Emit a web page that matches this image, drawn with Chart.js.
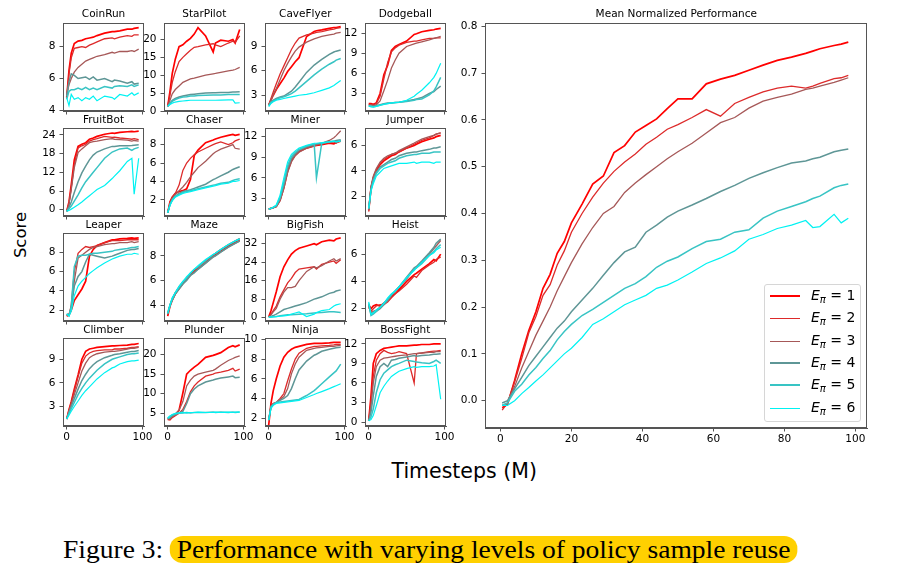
<!DOCTYPE html>
<html>
<head>
<meta charset="utf-8">
<script src="https://cdn.jsdelivr.net/npm/chart.js@4.4.0/dist/chart.umd.min.js"></script>
<style>
  body { margin: 0; width: 924px; height: 587px; background: #fff; position: relative; overflow: hidden;
         font-family: "DejaVu Sans", sans-serif; color: #000; }
  canvas { position: absolute; }
  .ttl { position: absolute; font-size: 10.5px; line-height: 1; white-space: nowrap; transform: translate(-50%, -50%); }
  #score { position: absolute; left: 21px; top: 234.5px; font-size: 16.5px; line-height: 1;
           transform: translate(-50%, -50%) rotate(-90deg); }
  #xlabel { position: absolute; left: 464.2px; top: 461px; font-size: 20.5px; line-height: 1;
            white-space: nowrap; transform: translateX(-50%); }
  #legend { position: absolute; left: 764px; top: 284px; width: 97px; height: 138px; box-sizing: border-box;
            border: 1px solid #d6d6d6; border-radius: 3px; background: rgba(255,255,255,0.8); }
  #legend .ln { position: absolute; left: 5px; width: 30px; }
  #legend .tx { position: absolute; left: 46px; font-size: 14px; line-height: 1; white-space: nowrap; transform: translateY(-50%); }
  #legend sub { font-size: 10px; vertical-align: -3px; font-style: italic; }
  #caption { position: absolute; left: 62.7px; top: 537.3px; font-family: "Liberation Serif", serif; font-size: 25px;
             line-height: 25px; white-space: nowrap; transform-origin: 0 0; }
  #caption .hl { background: #ffd000; border-radius: 12px; padding: 0 6px; }
</style>
</head>
<body>
<div id="score">Score</div>
<div id="xlabel">Timesteps (M)</div>
<div id="caption">Figure 3: <span class="hl">Performance with varying levels of policy sample reuse</span></div>
<script>
// x positions (millions of timesteps) shared by all small panels
const SMALL_X = [0, 3, 6, 10, 15, 20, 25, 30, 35, 40, 50, 60, 63, 70, 80, 86, 89, 95];
const BIG_X = [0.5, 2, 4, 6, 8, 10, 12, 14, 16, 18, 20, 23, 26, 29, 32, 35, 38, 41, 44, 47, 50, 54, 58, 62, 66, 70, 74, 78, 82, 86, 88, 90, 94, 96, 98];
const SERIES = ['1', '2', '3', '4', '5', '6'];

const GAMES = ['CoinRun', 'StarPilot', 'CaveFlyer', 'Dodgeball',
               'FruitBot', 'Chaser', 'Miner', 'Jumper',
               'Leaper', 'Maze', 'BigFish', 'Heist',
               'Climber', 'Plunder', 'Ninja', 'BossFight'];

const YTICKS = [[4, 6, 8], [0, 5, 10, 15, 20], [3, 6, 9], [3, 6, 9, 12],
                [0, 6, 12, 18, 24], [2, 4, 6, 8], [3, 6, 9, 12], [2, 4, 6],
                [2, 4, 6, 8], [4, 6, 8], [0, 8, 16, 24, 32], [2, 4, 6],
                [3, 6, 9], [5, 10, 15, 20], [2, 4, 6, 8, 10], [0, 3, 6, 9, 12]];

const YRANGE = [[3.96, 9.49], [0, 24.6], [1.07, 11.85], [0.4, 13.5],
                [-2.0, 26.2], [0.25, 9.8], [0.5, 13.2], [0.46, 7.38],
                [0.88, 10.0], [2.7, 9.85], [-1.45, 36.6], [1.1, 7.55],
                [0.52, 11.7], [1.75, 24.25], [1.2, 10.15], [-0.6, 12.9]];

const XTICKS = [0, 100];
const BIG_XTICKS = [0, 20, 40, 60, 80, 100];
const BIG_YTICKS = [0.0, 0.1, 0.2, 0.3, 0.4, 0.5, 0.6, 0.7, 0.8];

// scores, one row per E_pi = 1..6
const COINRUN = [
  [4.8, 6.5, 7.6, 8.2, 8.35, 8.4, 8.5, 8.55, 8.6, 8.7, 8.85, 8.95, 8.95, 9.0, 9.1, 9.1, 9.15, 9.2],
  [4.8, 6.3, 7.3, 7.9, 7.95, 8.0, 7.95, 8.1, 8.2, 8.3, 8.5, 8.55, 8.5, 8.6, 8.7, 8.65, 8.75, 8.75],
  [5.0, 5.6, 6.0, 6.4, 6.7, 6.9, 7.1, 7.2, 7.3, 7.4, 7.5, 7.65, 7.6, 7.7, 7.7, 7.75, 7.7, 7.85],
  [4.9, 5.8, 6.3, 6.2, 6.0, 6.05, 6.1, 5.95, 6.1, 5.9, 6.0, 5.8, 5.9, 5.85, 5.7, 5.8, 5.65, 5.7],
  [4.7, 5.2, 5.3, 5.3, 5.4, 5.3, 5.45, 5.3, 5.4, 5.3, 5.5, 5.4, 5.5, 5.55, 5.5, 5.6, 5.5, 5.6],
  [4.8, 4.3, 5.0, 4.7, 4.8, 4.6, 4.8, 4.7, 4.9, 4.6, 4.9, 4.8, 4.7, 5.0, 4.9, 5.1, 4.95, 5.1]
];
const STARPILOT = [
  [1.3, 5.5, 10.5, 14.5, 18.0, 18.5, 19.5, 20.3, 21.5, 23.3, 21.0, 16.5, 19.0, 19.8, 19.5, 20.0, 19.0, 22.8],
  [1.3, 4.5, 8.0, 11.0, 13.8, 15.0, 16.0, 17.0, 17.8, 18.0, 18.5, 18.8, 18.5, 18.0, 19.0, 19.5, 19.2, 21.0],
  [1.3, 3.0, 4.8, 6.0, 7.0, 8.0, 8.5, 9.0, 9.2, 9.5, 10.0, 10.4, 10.5, 10.8, 11.2, 11.4, 11.6, 12.2],
  [1.3, 2.2, 3.0, 3.5, 3.9, 4.2, 4.4, 4.6, 4.7, 4.8, 5.0, 5.1, 5.1, 5.2, 5.2, 5.3, 5.3, 5.4],
  [1.3, 2.0, 2.7, 3.2, 3.6, 3.9, 4.0, 4.2, 4.2, 4.3, 4.4, 4.5, 4.5, 4.5, 4.6, 4.6, 4.6, 4.6],
  [1.3, 1.8, 2.2, 2.5, 2.7, 2.8, 2.9, 3.0, 3.0, 3.0, 3.0, 3.0, 3.0, 3.05, 3.1, 3.1, 2.2, 2.3]
];
const CAVEFLYER = [
  [1.8, 2.4, 3.0, 3.7, 4.4, 5.1, 5.9, 6.5, 7.1, 7.6, 10.2, 10.8, 10.9, 11.0, 11.2, 11.3, 11.3, 11.4],
  [1.8, 2.6, 3.4, 4.4, 5.6, 6.6, 7.6, 8.6, 9.4, 10.0, 10.4, 10.6, 10.7, 10.8, 11.0, 11.1, 11.2, 11.3],
  [1.8, 2.4, 3.1, 3.8, 4.9, 6.0, 6.9, 7.7, 8.4, 8.9, 9.5, 9.9, 10.0, 10.2, 10.4, 10.5, 10.6, 10.7],
  [1.8, 2.2, 2.4, 2.6, 2.8, 2.9, 3.2, 3.5, 4.0, 4.6, 5.8, 6.7, 6.9, 7.4, 8.0, 8.3, 8.4, 8.55],
  [1.7, 2.1, 2.3, 2.5, 2.7, 2.8, 3.0, 3.2, 3.5, 3.9, 4.7, 5.5, 5.7, 6.2, 6.8, 7.1, 7.3, 7.5],
  [1.6, 2.0, 2.2, 2.4, 2.5, 2.6, 2.7, 2.8, 2.9, 3.0, 3.1, 3.3, 3.4, 3.6, 3.9, 4.2, 4.4, 4.8]
];
const DODGEBALL = [
  [1.5, 1.5, 1.4, 1.6, 3.0, 5.8, 7.2, 9.4, 10.0, 10.3, 10.8, 11.8, 11.9, 12.2, 12.4, 12.5, 12.6, 12.7],
  [1.4, 1.4, 1.3, 1.5, 2.6, 5.2, 7.6, 9.2, 9.8, 10.2, 10.6, 10.8, 10.8, 11.0, 11.2, 11.2, 11.3, 11.3],
  [1.3, 1.3, 1.2, 1.3, 1.9, 3.4, 5.0, 6.8, 8.0, 9.0, 10.0, 10.4, 10.5, 10.7, 11.0, 11.2, 11.3, 11.5],
  [1.2, 1.1, 1.1, 1.2, 1.35, 1.5, 1.6, 1.6, 1.65, 1.7, 1.9, 2.1, 2.2, 2.4, 3.0, 3.3, 3.6, 4.1],
  [1.2, 1.1, 1.0, 1.1, 1.25, 1.4, 1.5, 1.6, 1.65, 1.7, 1.8, 2.0, 2.1, 2.2, 2.8, 3.4, 4.0, 5.4],
  [1.1, 1.0, 1.0, 1.1, 1.25, 1.4, 1.5, 1.6, 1.65, 1.7, 2.0, 2.6, 2.9, 3.5, 4.6, 5.4, 6.0, 7.5]
];
const FRUITBOT = [
  [-0.5, 2.5, 8.0, 16.0, 20.3, 21.0, 21.5, 22.6, 23.0, 23.5, 24.2, 24.6, 24.5, 24.8, 25.0, 25.1, 25.0, 25.2],
  [-0.5, 2.0, 7.0, 14.5, 19.8, 20.5, 21.0, 22.0, 22.5, 22.8, 23.5, 23.2, 23.3, 23.0, 22.8, 22.6, 22.8, 22.5],
  [-0.5, 1.8, 6.5, 13.5, 18.3, 19.5, 20.5, 21.5, 21.8, 22.0, 22.5, 22.8, 22.6, 22.5, 22.3, 22.0, 22.2, 22.0],
  [-0.5, 0.8, 2.5, 5.5, 9.0, 11.8, 14.0, 16.0, 17.5, 18.5, 19.5, 20.3, 20.3, 20.5, 20.5, 20.6, 20.7, 20.8],
  [-0.5, 0.3, 1.2, 2.8, 4.8, 7.0, 9.0, 10.5, 12.0, 13.5, 16.5, 18.5, 18.8, 19.5, 19.8, 19.0, 19.5, 20.0],
  [-0.5, -0.2, 0.2, 0.8, 1.6, 2.5, 3.5, 4.5, 5.5, 6.5, 7.8, 10.0, 10.8, 12.5, 15.5, 16.5, 5.0, 16.5]
];
const CHASER = [
  [0.6, 1.8, 2.3, 2.7, 2.9, 3.0, 3.2, 4.2, 6.8, 7.4, 8.2, 8.5, 8.6, 8.8, 9.0, 9.1, 9.0, 9.1],
  [0.6, 1.7, 2.3, 2.7, 3.6, 5.2, 6.0, 6.5, 6.9, 7.2, 7.6, 8.0, 8.1, 8.3, 8.0, 8.2, 8.4, 8.6],
  [0.6, 1.6, 2.2, 2.6, 3.0, 3.4, 3.9, 4.5, 5.0, 5.5, 6.2, 7.0, 7.2, 7.5, 7.8, 8.0, 7.6, 7.5],
  [0.6, 1.5, 2.0, 2.4, 2.7, 2.9, 3.0, 3.1, 3.25, 3.4, 3.7, 4.2, 4.3, 4.6, 5.0, 5.3, 5.4, 5.6],
  [0.6, 1.5, 2.0, 2.4, 2.6, 2.8, 2.9, 3.0, 3.1, 3.2, 3.4, 3.6, 3.65, 3.8, 3.9, 4.1, 4.2, 4.3],
  [0.6, 1.4, 1.9, 2.3, 2.5, 2.7, 2.8, 2.9, 3.0, 3.1, 3.3, 3.5, 3.55, 3.7, 3.8, 4.0, 4.0, 4.1]
];
const MINER = [
  [1.5, 1.6, 1.7, 1.9, 2.8, 4.6, 7.0, 8.5, 9.3, 9.8, 10.3, 10.6, 10.7, 10.8, 11.0, 10.9, 11.1, 11.3],
  [1.5, 1.6, 1.7, 1.9, 2.9, 4.9, 7.2, 8.6, 9.4, 9.9, 10.4, 10.7, 10.7, 10.9, 11.1, 11.2, 11.0, 11.4],
  [1.5, 1.6, 1.7, 1.8, 2.7, 4.5, 6.8, 8.3, 9.2, 9.7, 10.3, 10.6, 10.8, 11.0, 11.4, 11.8, 12.1, 12.8],
  [1.5, 1.6, 1.7, 1.9, 3.0, 5.0, 7.4, 8.8, 9.5, 10.0, 10.5, 10.8, 10.9, 11.0, 11.2, 11.3, 11.4, 11.5],
  [1.5, 1.6, 1.7, 2.0, 3.2, 5.4, 7.8, 9.1, 9.7, 10.1, 10.6, 10.9, 6.0, 11.0, 11.2, 11.3, 11.2, 11.4],
  [1.5, 1.6, 1.8, 2.1, 3.5, 6.0, 8.3, 9.4, 9.9, 10.3, 10.7, 11.0, 11.0, 11.1, 11.2, 11.3, 11.2, 11.3]
];
const JUMPER = [
  [0.9, 2.6, 3.4, 4.0, 4.5, 4.8, 5.0, 5.2, 5.3, 5.5, 5.8, 6.0, 6.1, 6.3, 6.5, 6.6, 6.7, 6.8],
  [0.8, 2.7, 3.5, 4.1, 4.6, 4.9, 5.1, 5.3, 5.4, 5.5, 5.8, 6.1, 6.2, 6.4, 6.6, 6.8, 6.9, 7.0],
  [0.9, 2.8, 3.6, 4.2, 4.7, 5.0, 5.2, 5.3, 5.4, 5.6, 5.9, 6.2, 6.3, 6.5, 6.7, 6.8, 6.9, 7.0],
  [1.0, 2.6, 3.3, 3.9, 4.3, 4.5, 4.7, 4.9, 5.0, 5.2, 5.4, 5.5, 5.5, 5.6, 5.7, 5.8, 5.8, 5.9],
  [1.0, 2.5, 3.2, 3.8, 4.2, 4.4, 4.6, 4.7, 4.8, 5.0, 5.2, 5.3, 5.3, 5.4, 5.4, 5.5, 5.5, 5.5],
  [1.1, 2.4, 3.0, 3.6, 3.9, 4.2, 4.3, 4.4, 4.5, 4.6, 4.6, 4.7, 4.6, 4.7, 4.7, 4.6, 4.7, 4.7]
];
const LEAPER = [
  [1.4, 1.5, 2.0, 3.0, 3.6, 4.2, 5.0, 7.6, 8.3, 8.7, 9.0, 9.3, 9.3, 9.4, 9.45, 9.5, 9.45, 9.5],
  [1.4, 1.5, 2.5, 6.0, 7.9, 8.3, 8.6, 8.5, 8.6, 8.7, 9.0, 9.2, 9.2, 9.2, 9.3, 9.3, 9.3, 9.3],
  [1.5, 1.5, 2.3, 5.0, 7.4, 7.7, 8.0, 8.3, 8.5, 8.6, 8.8, 8.9, 8.9, 9.0, 9.0, 9.1, 9.0, 9.1],
  [1.6, 1.5, 2.2, 4.5, 5.5, 6.0, 7.0, 7.8, 7.7, 7.6, 7.4, 7.6, 7.7, 7.9, 8.2, 8.3, 8.3, 8.4],
  [1.6, 1.4, 2.4, 6.5, 7.6, 7.7, 7.7, 7.8, 7.9, 7.9, 8.0, 8.1, 8.2, 8.3, 8.4, 8.5, 8.5, 8.6],
  [1.6, 1.4, 1.9, 3.5, 4.5, 5.0, 5.4, 5.8, 6.1, 6.4, 6.9, 7.3, 7.4, 7.6, 7.8, 7.8, 7.9, 7.8]
];
const MAZE = [
  [3.1, 3.9, 4.4, 4.9, 5.4, 5.8, 6.1, 6.5, 6.8, 7.0, 7.5, 8.0, 8.1, 8.4, 8.8, 9.0, 9.1, 9.3],
  [3.2, 4.0, 4.5, 5.0, 5.4, 5.8, 6.2, 6.5, 6.7, 7.0, 7.6, 8.0, 8.2, 8.5, 8.9, 9.1, 9.2, 9.4],
  [3.3, 4.0, 4.4, 4.9, 5.3, 5.7, 6.1, 6.4, 6.7, 6.9, 7.4, 7.9, 8.0, 8.3, 8.7, 8.9, 9.0, 9.2],
  [3.3, 3.9, 4.4, 4.9, 5.3, 5.7, 6.0, 6.4, 6.6, 6.9, 7.4, 7.9, 8.0, 8.3, 8.7, 8.9, 9.0, 9.2],
  [3.4, 4.0, 4.5, 5.0, 5.5, 5.9, 6.2, 6.6, 6.9, 7.1, 7.6, 8.1, 8.2, 8.5, 8.9, 9.1, 9.2, 9.4],
  [3.3, 4.0, 4.6, 5.0, 5.5, 5.9, 6.3, 6.6, 6.9, 7.2, 7.7, 8.1, 8.2, 8.5, 8.9, 9.1, 9.2, 9.35]
];
const BIGFISH = [
  [0.3, 3.0, 6.5, 11.2, 17.7, 22.0, 25.0, 27.5, 29.0, 30.0, 31.0, 32.0, 31.5, 32.8, 33.5, 33.2, 34.0, 34.5],
  [0.3, 1.5, 3.0, 5.0, 9.0, 12.0, 15.0, 17.0, 19.5, 21.0, 21.5, 22.0, 21.0, 23.0, 24.0, 24.5, 23.5, 25.0],
  [0.3, 1.2, 2.5, 4.0, 8.0, 11.0, 13.0, 13.0, 13.5, 16.0, 20.0, 22.0, 21.5, 22.5, 24.5, 25.5, 24.5, 25.5],
  [0.3, 0.5, 0.9, 1.5, 2.5, 3.5, 4.0, 4.5, 5.0, 5.5, 6.5, 8.0, 8.3, 9.0, 10.5, 11.0, 11.5, 12.0],
  [0.3, 0.3, 0.4, 0.5, 0.8, 1.0, 1.2, 1.3, 1.4, 1.5, 1.7, 2.0, 2.1, 2.2, 2.5, 2.5, 2.4, 2.2],
  [0.3, 0.2, 0.3, 0.4, 0.6, 0.8, 1.0, 1.5, 2.0, 2.5, 0.5, 1.5, 2.2, 3.0, 3.5, 5.0, 5.5, 6.0]
];
const HEIST = [
  [2.3, 2.0, 2.2, 2.3, 2.2, 2.4, 2.6, 2.9, 3.1, 3.4, 4.0, 4.5, 4.6, 4.9, 5.3, 5.6, 5.5, 6.0],
  [2.1, 1.8, 2.0, 2.2, 2.3, 2.3, 2.5, 2.8, 3.1, 3.3, 3.8, 4.4, 4.3, 4.8, 5.2, 5.4, 5.6, 5.8],
  [2.2, 1.7, 1.8, 1.9, 2.1, 2.4, 2.7, 3.0, 3.3, 3.6, 4.2, 4.9, 5.0, 5.4, 6.0, 6.4, 6.6, 7.0],
  [2.3, 1.6, 1.7, 1.8, 2.0, 2.3, 2.6, 3.0, 3.3, 3.6, 4.3, 5.0, 5.1, 5.5, 6.1, 6.5, 6.8, 7.1],
  [2.4, 1.5, 1.6, 1.8, 2.1, 2.4, 2.7, 3.0, 3.3, 3.6, 4.2, 4.9, 5.0, 5.3, 5.9, 6.2, 6.4, 6.7],
  [2.5, 1.6, 1.7, 1.9, 2.1, 2.4, 2.8, 3.1, 3.3, 3.6, 4.3, 4.8, 5.0, 5.4, 5.9, 6.1, 6.3, 6.5]
];
const CLIMBER = [
  [1.4, 2.6, 3.6, 5.2, 7.0, 9.0, 10.0, 10.3, 10.4, 10.5, 10.6, 10.7, 10.7, 10.75, 10.8, 10.9, 10.9, 11.0],
  [1.4, 2.5, 3.5, 5.0, 6.8, 8.5, 9.4, 9.8, 10.0, 10.1, 10.2, 10.2, 10.3, 10.3, 10.4, 10.5, 10.5, 10.6],
  [1.4, 2.4, 3.3, 4.5, 6.0, 7.5, 8.5, 9.2, 9.5, 9.7, 9.9, 10.0, 10.0, 10.1, 10.3, 10.4, 10.4, 10.5],
  [1.4, 2.3, 3.0, 4.0, 5.2, 6.3, 7.1, 7.8, 8.3, 8.7, 9.2, 9.5, 9.6, 9.7, 9.9, 10.0, 10.0, 10.1],
  [1.4, 2.1, 2.7, 3.5, 4.5, 5.3, 6.0, 6.6, 7.1, 7.6, 8.4, 9.0, 9.1, 9.3, 9.6, 9.7, 9.7, 9.8],
  [1.4, 1.9, 2.4, 3.0, 3.7, 4.4, 5.0, 5.5, 6.0, 6.5, 7.3, 7.9, 8.0, 8.4, 8.7, 8.8, 8.8, 8.9]
];
const PLUNDER = [
  [3.5, 3.6, 4.2, 4.6, 5.8, 10.2, 15.0, 16.0, 16.8, 17.5, 19.3, 19.8, 20.0, 20.5, 21.8, 22.3, 22.0, 22.5],
  [3.4, 3.3, 3.9, 4.4, 5.0, 6.0, 8.0, 10.5, 12.0, 13.0, 14.5, 15.0, 15.3, 15.5, 16.0, 16.5, 15.8, 16.3],
  [3.6, 3.7, 4.3, 4.8, 5.8, 8.0, 12.0, 13.5, 14.5, 15.0, 15.5, 16.0, 16.3, 17.3, 18.5, 19.0, 19.3, 19.7],
  [3.6, 3.8, 4.3, 4.7, 5.1, 5.5, 7.5, 10.0, 11.2, 12.0, 13.0, 13.5, 13.7, 14.0, 14.3, 14.5, 14.1, 14.2],
  [3.7, 4.2, 4.6, 4.9, 5.0, 5.1, 5.2, 5.1, 5.2, 5.2, 5.2, 5.3, 5.2, 5.3, 5.2, 5.3, 5.2, 5.3],
  [3.8, 4.3, 4.7, 5.0, 5.1, 5.2, 5.1, 5.2, 5.2, 5.3, 5.2, 5.2, 5.3, 5.2, 5.3, 5.2, 5.3, 5.3]
];
const NINJA = [
  [1.3, 3.5, 4.8, 6.0, 7.3, 8.2, 8.7, 9.0, 9.2, 9.3, 9.5, 9.6, 9.6, 9.6, 9.65, 9.7, 9.7, 9.7],
  [1.8, 3.3, 3.5, 3.6, 4.0, 4.5, 5.8, 7.0, 8.0, 8.6, 9.1, 9.3, 9.3, 9.35, 9.4, 9.45, 9.5, 9.5],
  [1.8, 3.2, 3.4, 3.6, 3.9, 4.2, 5.0, 6.5, 7.5, 8.2, 8.9, 9.1, 9.15, 9.2, 9.3, 9.3, 9.35, 9.4],
  [1.8, 3.2, 3.4, 3.6, 3.8, 4.0, 4.3, 5.0, 6.0, 6.9, 7.8, 8.4, 8.5, 8.8, 9.0, 9.1, 9.15, 9.2],
  [1.8, 3.1, 3.4, 3.6, 3.65, 3.7, 3.75, 3.8, 3.85, 3.9, 4.3, 4.8, 5.0, 5.5, 6.2, 6.6, 6.8, 7.5],
  [1.8, 3.0, 3.3, 3.5, 3.55, 3.6, 3.65, 3.7, 3.75, 3.8, 4.1, 4.4, 4.5, 4.7, 5.0, 5.2, 5.3, 5.5]
];
const BOSSFIGHT = [
  [0.2, 4.0, 9.0, 10.5, 11.0, 11.3, 11.4, 11.5, 11.6, 11.7, 11.7, 11.8, 11.8, 11.9, 11.9, 12.0, 12.0, 12.0],
  [0.2, 3.0, 7.0, 9.5, 10.5, 11.0, 10.7, 10.5, 10.6, 10.8, 10.5, 6.0, 10.5, 10.6, 10.8, 10.9, 10.9, 11.0],
  [0.2, 2.5, 6.0, 8.5, 9.5, 9.8, 9.9, 10.0, 10.1, 10.2, 10.3, 10.5, 10.5, 10.6, 10.7, 10.7, 10.8, 10.8],
  [0.2, 1.5, 4.0, 7.0, 8.5, 9.0, 8.5, 9.5, 9.6, 9.8, 10.0, 10.2, 10.1, 10.2, 10.3, 10.4, 10.4, 10.5],
  [0.2, 0.8, 2.0, 4.5, 6.5, 7.5, 8.0, 8.5, 8.8, 9.0, 9.5, 9.3, 9.2, 9.1, 9.0, 9.3, 9.5, 9.0],
  [0.2, 0.4, 1.0, 2.5, 4.5, 5.5, 6.3, 7.0, 7.4, 7.8, 8.2, 8.5, 8.4, 8.5, 8.5, 8.6, 8.8, 3.5]
];

// mean normalized performance, one row per E_pi = 1..6
const MEAN_PERF = [
  [-0.015, -0.008, 0.043, 0.10, 0.15, 0.19, 0.24, 0.27, 0.315, 0.34, 0.38, 0.42, 0.463, 0.48, 0.53, 0.545, 0.574, 0.588, 0.602, 0.624, 0.645, 0.645, 0.677, 0.687, 0.695, 0.706, 0.717, 0.727, 0.734, 0.742, 0.747, 0.752, 0.759, 0.762, 0.766],
  [-0.02, -0.005, 0.04, 0.09, 0.145, 0.18, 0.225, 0.248, 0.29, 0.32, 0.36, 0.40, 0.435, 0.465, 0.49, 0.51, 0.527, 0.548, 0.563, 0.58, 0.59, 0.605, 0.622, 0.608, 0.635, 0.648, 0.66, 0.668, 0.672, 0.668, 0.672, 0.678, 0.688, 0.69, 0.695],
  [-0.01, -0.005, 0.03, 0.07, 0.105, 0.14, 0.17, 0.20, 0.235, 0.265, 0.295, 0.335, 0.37, 0.40, 0.415, 0.445, 0.465, 0.483, 0.50, 0.517, 0.532, 0.55, 0.572, 0.594, 0.605, 0.625, 0.64, 0.648, 0.655, 0.665, 0.668, 0.672, 0.68, 0.685, 0.69],
  [-0.005, 0.0, 0.025, 0.05, 0.075, 0.095, 0.115, 0.135, 0.155, 0.17, 0.19, 0.215, 0.24, 0.268, 0.295, 0.318, 0.328, 0.36, 0.375, 0.392, 0.405, 0.418, 0.432, 0.447, 0.46, 0.475, 0.487, 0.498, 0.508, 0.512, 0.517, 0.52, 0.532, 0.535, 0.538],
  [-0.01, -0.005, 0.02, 0.035, 0.055, 0.071, 0.09, 0.107, 0.13, 0.148, 0.163, 0.182, 0.195, 0.21, 0.225, 0.24, 0.25, 0.265, 0.285, 0.298, 0.307, 0.325, 0.34, 0.345, 0.36, 0.365, 0.39, 0.405, 0.415, 0.425, 0.432, 0.437, 0.455, 0.46, 0.463],
  [-0.01, -0.01, 0.0, 0.015, 0.028, 0.042, 0.055, 0.07, 0.085, 0.1, 0.112, 0.135, 0.163, 0.175, 0.19, 0.205, 0.215, 0.225, 0.24, 0.247, 0.258, 0.275, 0.293, 0.305, 0.32, 0.345, 0.355, 0.368, 0.375, 0.385, 0.37, 0.372, 0.398, 0.38, 0.39]
];

const GAME_DATA = [COINRUN, STARPILOT, CAVEFLYER, DODGEBALL, FRUITBOT, CHASER, MINER, JUMPER,
                   LEAPER, MAZE, BIGFISH, HEIST, CLIMBER, PLUNDER, NINJA, BOSSFIGHT];

// styles
const COLORS = ['#ff0000', '#dd2a2a', '#a65858', '#5e9696', '#38c4c4', '#00f2f2'];
const WIDTHS = [1.7, 1.3, 1.3, 1.5, 1.5, 1.2];
const LEGEND_W = [2, 1, 1, 2, 2, 1];
const SPINE = '#555555';
const FONT = 'DejaVu Sans';

Chart.defaults.font.family = FONT;

// layout of the small grid and the big panel
const COL_LEFT = [63.3, 164, 265, 365];
const ROW_TOP = [22.5, 128, 233, 338.3];
const PANEL_W = 80.5, PANEL_H = 88.3;
const PT = 12, PR = 14, XH = 16;

const frame = {
  id: 'frame',
  afterDatasetsDraw(chart) {
    const a = chart.chartArea, c = chart.ctx;
    c.save();
    c.strokeStyle = SPINE;
    c.lineWidth = 1;
    c.strokeRect(Math.round(a.left) + 0.5, Math.round(a.top) + 0.5,
                 Math.round(a.right - a.left) - 1, Math.round(a.bottom - a.top) - 1);
    c.restore();
  }
};

function axis(min, max, ticks, fmt, isX) {
  return {
    type: 'linear', min: min, max: max,
    afterBuildTicks: s => { s.ticks = ticks.map(v => ({ value: v })); },
    grid: { drawOnChartArea: false, color: SPINE, tickColor: SPINE, tickLength: 3.5, lineWidth: 1 },
    border: { display: true, color: SPINE, width: 1 },
    ticks: { color: '#000', font: { size: 10.5 }, padding: isX ? 1.5 : 4, autoSkip: false,
             maxRotation: 0, minRotation: 0, callback: fmt }
  };
}

function panel(box, yw, xs, series, xr, yr, xticks, yticks, xfmt, yfmt) {
  const c = document.createElement('canvas');
  const L = Math.round(box.x) - yw, T = Math.round(box.y) - PT;
  const W = Math.round(box.w) + yw + PR, H = Math.round(box.h) + PT + XH;
  c.width = W; c.height = H;
  c.style.left = L + 'px'; c.style.top = T + 'px';
  c.style.width = W + 'px'; c.style.height = H + 'px';
  document.body.appendChild(c);

  const xAx = axis(xr[0], xr[1], xticks, xfmt, true);
  xAx.afterFit = s => { s.height = XH; };
  const yAx = axis(yr[0], yr[1], yticks, yfmt, false);
  yAx.afterFit = s => { s.width = yw; };

  new Chart(c, {
    type: 'line',
    data: {
      datasets: series.map((ys, i) => ({
        label: 'E = ' + SERIES[i],
        data: xs.map((x, j) => ({ x: x, y: ys[j] })),
        borderColor: COLORS[i],
        borderWidth: WIDTHS[i],
        pointRadius: 0,
        tension: 0,
        fill: false,
        order: 5 - i
      }))
    },
    options: {
      responsive: false,
      animation: false,
      events: [],
      layout: { padding: { top: PT, right: PR, left: 0, bottom: 0 } },
      plugins: { legend: { display: false }, tooltip: { enabled: false } },
      scales: { x: xAx, y: yAx }
    },
    plugins: [frame]
  });
}

function title(text, cx, cy) {
  const d = document.createElement('div');
  d.className = 'ttl';
  d.textContent = text;
  d.style.left = cx + 'px';
  d.style.top = cy + 'px';
  document.body.appendChild(d);
}

GAMES.forEach((name, k) => {
  const r = Math.floor(k / 4), col = k % 4;
  const box = { x: COL_LEFT[col], y: ROW_TOP[r], w: PANEL_W, h: PANEL_H };
  const bottomRow = r === 3;
  panel(box, 26, SMALL_X, GAME_DATA[k], [-4.9, 102], YRANGE[k], XTICKS, YTICKS[k],
        v => bottomRow ? String(v) : '', v => String(v));
  title(name, box.x + box.w / 2, box.y - 9.4);
});

// big panel
const BIG = { x: 485.3, y: 22.7, w: 382, h: 404.6 };
panel(BIG, 36, BIG_X, MEAN_PERF, [-4.34, 103.27], [-0.0584, 0.807], BIG_XTICKS, BIG_YTICKS,
      v => String(v), v => v.toFixed(1));
title('Mean Normalized Performance', BIG.x + BIG.w / 2, 13.3);

// legend
const leg = document.createElement('div');
leg.id = 'legend';
SERIES.forEach((s, i) => {
  const cy = 11 + Math.round(i * 22.3);
  const ln = document.createElement('div');
  ln.className = 'ln';
  ln.style.top = (cy - Math.floor(LEGEND_W[i] / 2)) + 'px';
  ln.style.height = LEGEND_W[i] + 'px';
  ln.style.background = COLORS[i];
  leg.appendChild(ln);
  const tx = document.createElement('div');
  tx.className = 'tx';
  tx.style.top = cy + 'px';
  tx.innerHTML = '<i>E</i><sub>\u03c0</sub> = ' + s;
  leg.appendChild(tx);
});
document.body.appendChild(leg);

// stretch caption to the printed width
const cap = document.getElementById('caption');
const cw = cap.getBoundingClientRect().width;
cap.style.transform = 'scaleX(' + (734 / cw) + ')';
</script>
</body>
</html>
